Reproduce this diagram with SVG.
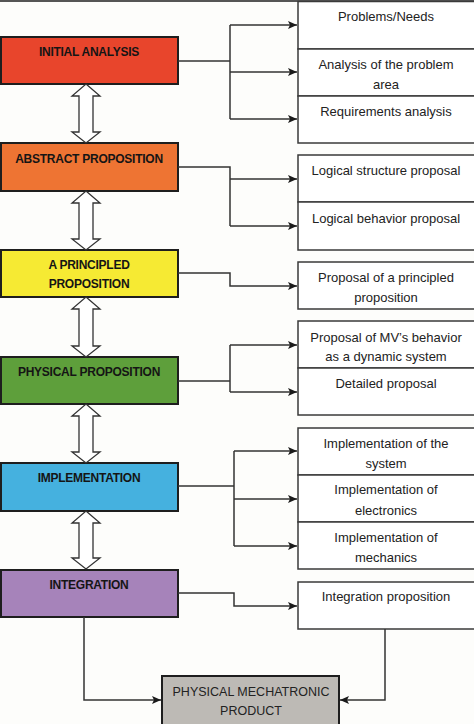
<svg xmlns="http://www.w3.org/2000/svg" width="474" height="724" viewBox="0 0 474 724">
<defs>
<marker id="ah" markerWidth="10" markerHeight="8" refX="9" refY="4" orient="auto" markerUnits="userSpaceOnUse">
<path d="M0,0 L9,4 L0,8 L2,4 Z" fill="#1a1a1a"/>
</marker>
<style>
.stage{stroke:#1e1e1e;stroke-width:2}
.sub{fill:#fff;stroke:#3a3a3a;stroke-width:1.5}
.lbl{font-family:"Liberation Sans",Arial,sans-serif;font-weight:bold;font-size:12px;fill:#151515;text-anchor:middle;letter-spacing:-0.25px}
.st{font-family:"Liberation Sans",Arial,sans-serif;font-size:13px;fill:#222;text-anchor:middle}
.pl{font-family:"Liberation Sans",Arial,sans-serif;font-size:12.5px;fill:#222;text-anchor:middle}
.con{fill:none;stroke:#333;stroke-width:1.5}
.dbl{fill:#fff;stroke:#333;stroke-width:1.3}
</style>
</defs>
<rect x="0" y="0" width="474" height="724" fill="#fdfdfb"/>
<rect x="0" y="0" width="474" height="2" fill="#555"/>

<g id="initial-analysis">
<rect class="stage" x="1" y="37" width="177" height="47" fill="#e8452c"/>
<text class="lbl" x="89" y="56">INITIAL ANALYSIS</text>
</g>
<g id="abstract-proposition">
<rect class="stage" x="1" y="143" width="177" height="48" fill="#ee7433"/>
<text class="lbl" x="89" y="163">ABSTRACT PROPOSITION</text>
</g>
<g id="principled-proposition">
<rect class="stage" x="1" y="250" width="177" height="47" fill="#f6ea33"/>
<text class="lbl" x="89" y="269">A PRINCIPLED</text>
<text class="lbl" x="89" y="288">PROPOSITION</text>
</g>
<g id="physical-proposition">
<rect class="stage" x="1" y="357" width="177" height="47" fill="#5e9f3b"/>
<text class="lbl" x="89" y="376">PHYSICAL PROPOSITION</text>
</g>
<g id="implementation">
<rect class="stage" x="1" y="463" width="177" height="48" fill="#45b1df"/>
<text class="lbl" x="89" y="482">IMPLEMENTATION</text>
</g>
<g id="integration">
<rect class="stage" x="1" y="570" width="177" height="47" fill="#a683ba"/>
<text class="lbl" x="89" y="589">INTEGRATION</text>
</g>
<g id="product">
<rect class="stage" x="162" y="676" width="177" height="52" fill="#bdbab5"/>
<text class="pl" x="251" y="696">PHYSICAL  MECHATRONIC</text>
<text class="pl" x="251" y="715">PRODUCT</text>
</g>

<g id="sub-initial">
<rect class="sub" x="298" y="1.5" width="180" height="47.5"/>
<rect class="sub" x="298" y="49" width="180" height="47"/>
<rect class="sub" x="298" y="96" width="180" height="47"/>
<text class="st" x="386" y="20.5">Problems/Needs</text>
<text class="st" x="386" y="68.5">Analysis of the problem</text>
<text class="st" x="386" y="88.5">area</text>
<text class="st" x="386" y="115.5">Requirements analysis</text>
</g>
<g id="sub-abstract">
<rect class="sub" x="298" y="155" width="180" height="47"/>
<rect class="sub" x="298" y="202" width="180" height="48"/>
<text class="st" x="386" y="174.5">Logical structure proposal</text>
<text class="st" x="386" y="222.5">Logical behavior proposal</text>
</g>
<g id="sub-principled">
<rect class="sub" x="298" y="262" width="180" height="47"/>
<text class="st" x="386" y="281.5">Proposal of a principled</text>
<text class="st" x="386" y="301.5">proposition</text>
</g>
<g id="sub-physical">
<rect class="sub" x="298" y="321" width="180" height="47"/>
<rect class="sub" x="298" y="368" width="180" height="47"/>
<text class="st" x="386" y="341.5">Proposal of MV’s behavior</text>
<text class="st" x="386" y="360.5">as a dynamic system</text>
<text class="st" x="386" y="387.5">Detailed proposal</text>
</g>
<g id="sub-implementation">
<rect class="sub" x="298" y="428" width="180" height="47"/>
<rect class="sub" x="298" y="475" width="180" height="47"/>
<rect class="sub" x="298" y="522" width="180" height="47"/>
<text class="st" x="386" y="447.5">Implementation of the</text>
<text class="st" x="386" y="467.5">system</text>
<text class="st" x="386" y="493.5">Implementation of</text>
<text class="st" x="386" y="514.5">electronics</text>
<text class="st" x="386" y="541.5">Implementation of</text>
<text class="st" x="386" y="561.5">mechanics</text>
</g>
<g id="sub-integration">
<rect class="sub" x="298" y="582" width="180" height="47"/>
<text class="st" x="386" y="600.5">Integration proposition</text>
</g>

<g id="connectors">
<path class="dbl" d="M86,84 L100,96 L93,96 L93,132 L100,132 L86,143 L72,132 L79,132 L79,96 L72,96 Z"/>
<path class="dbl" d="M86,191 L100,203 L93,203 L93,239 L100,239 L86,250 L72,239 L79,239 L79,203 L72,203 Z"/>
<path class="dbl" d="M86,297 L100,309 L93,309 L93,346 L100,346 L86,357 L72,346 L79,346 L79,309 L72,309 Z"/>
<path class="dbl" d="M86,404 L100,416 L93,416 L93,452 L100,452 L86,463 L72,452 L79,452 L79,416 L72,416 Z"/>
<path class="dbl" d="M86,511 L100,523 L93,523 L93,558 L100,558 L86,569 L72,558 L79,558 L79,523 L72,523 Z"/>

<path class="con" d="M178,61 H230"/>
<path class="con" d="M230,25 V119"/>
<path class="con" d="M230,25 H297" marker-end="url(#ah)"/>
<path class="con" d="M230,72 H297" marker-end="url(#ah)"/>
<path class="con" d="M230,119 H297" marker-end="url(#ah)"/>

<path class="con" d="M178,167 H230 V226"/>
<path class="con" d="M230,179 H297" marker-end="url(#ah)"/>
<path class="con" d="M230,226 H297" marker-end="url(#ah)"/>

<path class="con" d="M178,273 H230 V286 H297" marker-end="url(#ah)"/>

<path class="con" d="M178,381 H230"/>
<path class="con" d="M230,345 V392"/>
<path class="con" d="M230,345 H297" marker-end="url(#ah)"/>
<path class="con" d="M230,392 H297" marker-end="url(#ah)"/>

<path class="con" d="M178,486 H234"/>
<path class="con" d="M234,451 V546"/>
<path class="con" d="M234,451 H297" marker-end="url(#ah)"/>
<path class="con" d="M234,499 H297" marker-end="url(#ah)"/>
<path class="con" d="M234,546 H297" marker-end="url(#ah)"/>

<path class="con" d="M178,593 H234 V606 H297" marker-end="url(#ah)"/>

<path class="con" d="M84,617 V700 H161" marker-end="url(#ah)"/>
<path class="con" d="M385,629 V700 H340" marker-end="url(#ah)"/>
</g>
</svg>
